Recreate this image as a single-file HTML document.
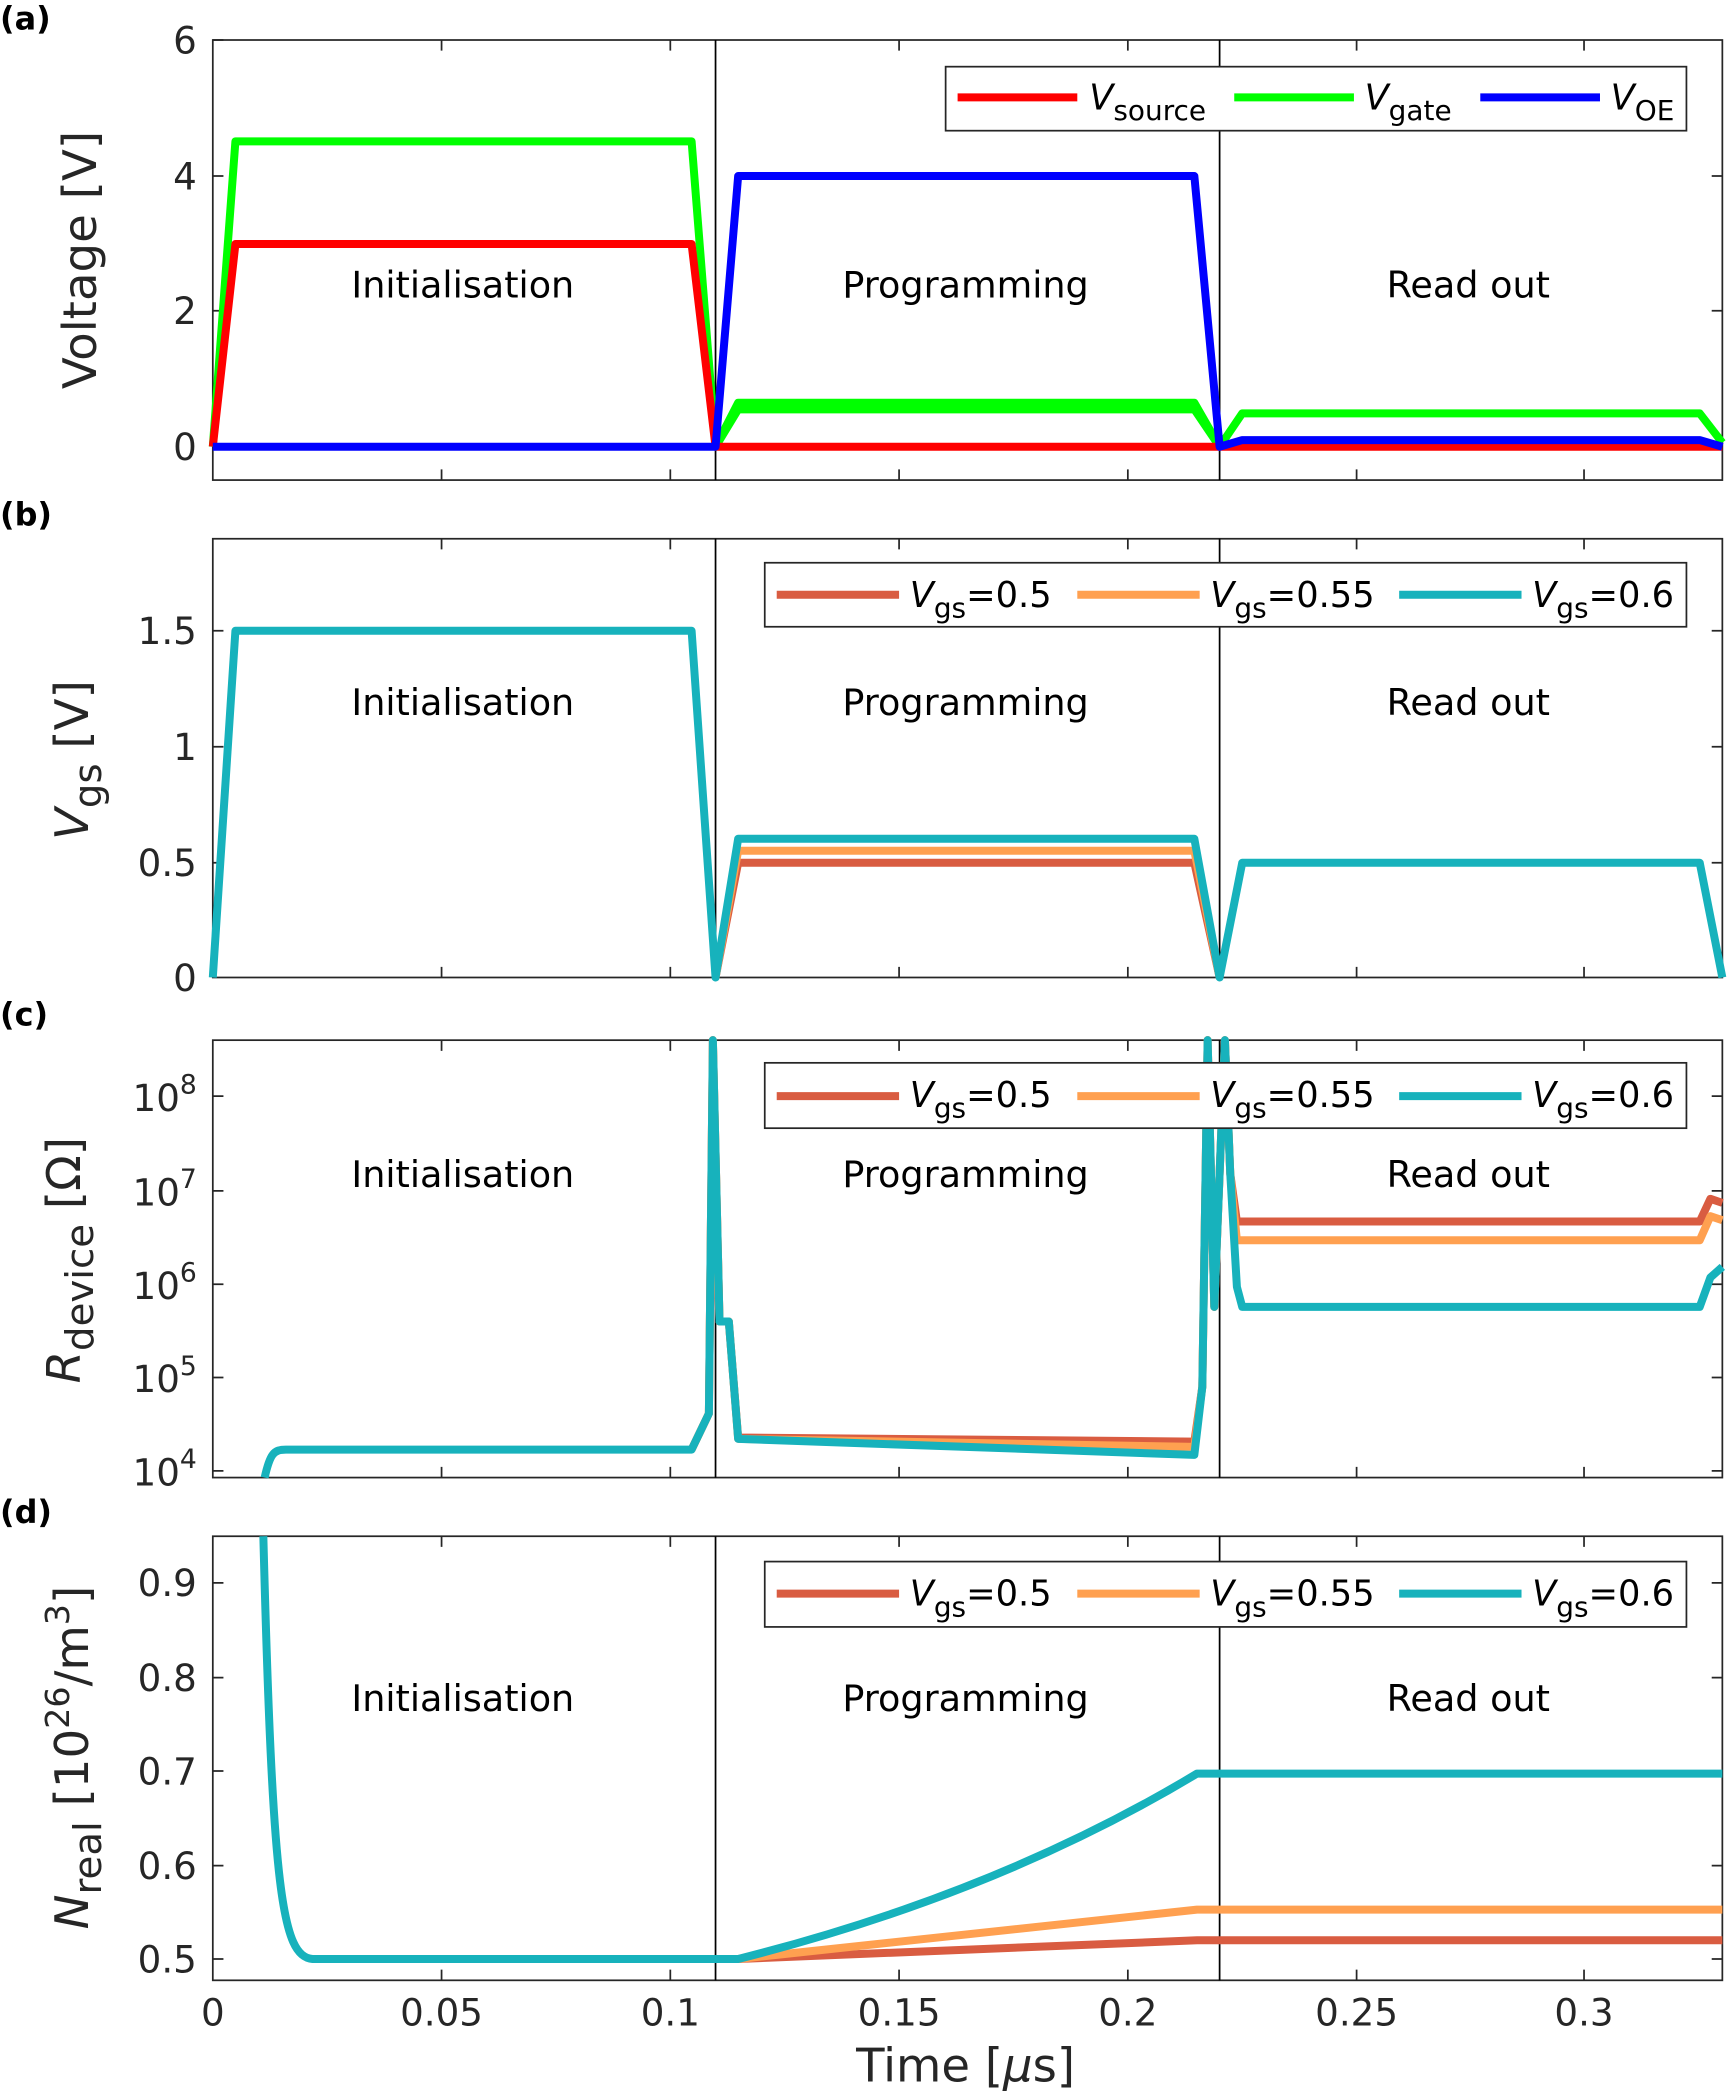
<!DOCTYPE html>
<html><head><meta charset="utf-8"><style>
html,body{margin:0;padding:0;background:#fff}
svg{display:block}
text{font-family:"DejaVu Sans","Liberation Sans",sans-serif;fill:#262626}
.t{font-size:28px}
.lab{font-size:27.5px;fill:#000}
.yl{font-size:35px}
.pl{font-size:24px;font-weight:bold;fill:#000}
.ax{fill:none;stroke:#262626;stroke-width:1.3}
.dv{stroke:#000;stroke-width:1.3}
.s{fill:none;stroke-width:6;stroke-linejoin:round}
.lg{font-size:26.5px;fill:#000}
</style></head><body>
<svg width="1729" height="2091" viewBox="0 0 1300 1568" preserveAspectRatio="none" xmlns="http://www.w3.org/2000/svg">
<rect width="1300" height="1568" fill="#fff"/>
<text class="pl" x="0" y="22">(a)</text>
<text class="pl" x="0" y="394">(b)</text>
<text class="pl" x="0" y="769">(c)</text>
<text class="pl" x="0" y="1142">(d)</text>

<g>
<rect class="ax" x="160" y="30" width="1135" height="330"/>
<line class="dv" x1="538" y1="30" x2="538" y2="360"/>
<line class="dv" x1="917" y1="30" x2="917" y2="360"/>
<g class="ax">
<path d="M332,360v-8M504,360v-8M676,360v-8M848,360v-8M1020,360v-8M1191,360v-8M332,30v8M504,30v8M676,30v8M848,30v8M1020,30v8M1191,30v8"/>
<path d="M160,335h8M160,233h8M160,132h8M160,30h8M1295,335h-8M1295,233h-8M1295,132h-8"/>
</g>
<text class="t" x="148" y="345" text-anchor="end">0</text>
<text class="t" x="148" y="243" text-anchor="end">2</text>
<text class="t" x="148" y="142" text-anchor="end">4</text>
<text class="t" x="148" y="40" text-anchor="end">6</text>
<text class="yl" transform="translate(72,195) rotate(-90)" text-anchor="middle">Voltage [V]</text>
<text class="lab" x="348" y="223" text-anchor="middle">Initialisation</text>
<text class="lab" x="726" y="223" text-anchor="middle">Programming</text>
<text class="lab" x="1104" y="223" text-anchor="middle">Read out</text>
<path class="s" stroke="#00FF00" d="M160,335L177,106L520,106L538,335L555,307L898,307L917,335L934,310L1278,310L1295,332"/>
<path class="s" stroke="#00FF00" d="M538,335L555,302L898,302L917,335"/>
<path class="s" stroke="#FF0000" d="M160,335L177,183L520,183L538,335L1295,335"/>
<path class="s" stroke="#0000FF" d="M160,335L538,335L555,132L898,132L917,335L934,330L1278,330L1295,335"/>
<rect x="711" y="50" width="557" height="48" fill="#fff" stroke="#262626" stroke-width="1.3"/>
<line x1="720" y1="73" x2="810" y2="73" stroke="#FF0000" stroke-width="6"/>
<line x1="928" y1="73" x2="1018" y2="73" stroke="#00FF00" stroke-width="6"/>
<line x1="1113" y1="73" x2="1203" y2="73" stroke="#0000FF" stroke-width="6"/>
<text class="lg" x="819" y="82"><tspan font-style="italic">V</tspan><tspan dy="8" font-size="21">source</tspan></text>
<text class="lg" x="1026" y="82"><tspan font-style="italic">V</tspan><tspan dy="8" font-size="21">gate</tspan></text>
<text class="lg" x="1211" y="82"><tspan font-style="italic">V</tspan><tspan dy="8" font-size="21">OE</tspan></text>
</g>

<g>
<rect class="ax" x="160" y="404" width="1135" height="329"/>
<line class="dv" x1="538" y1="404" x2="538" y2="733"/>
<line class="dv" x1="917" y1="404" x2="917" y2="733"/>
<g class="ax">
<path d="M332,733v-8M504,733v-8M676,733v-8M848,733v-8M1020,733v-8M1191,733v-8M332,404v8M504,404v8M676,404v8M848,404v8M1020,404v8M1191,404v8"/>
<path d="M160,647h8M160,560h8M160,473h8M1295,647h-8M1295,560h-8M1295,473h-8"/>
</g>
<text class="t" x="148" y="743" text-anchor="end">0</text>
<text class="t" x="148" y="657" text-anchor="end">0.5</text>
<text class="t" x="148" y="570" text-anchor="end">1</text>
<text class="t" x="148" y="483" text-anchor="end">1.5</text>
<text class="yl" transform="translate(66,570) rotate(-90)" text-anchor="middle"><tspan font-style="italic">V</tspan><tspan dy="10" font-size="29">gs</tspan><tspan dy="-10"> [V]</tspan></text>
<text class="lab" x="348" y="536" text-anchor="middle">Initialisation</text>
<text class="lab" x="726" y="536" text-anchor="middle">Programming</text>
<text class="lab" x="1104" y="536" text-anchor="middle">Read out</text>
<path class="s" stroke="#D95C41" d="M538,733L555,647L898,647L917,733"/>
<path class="s" stroke="#FFA050" d="M538,733L555,638L898,638L917,733"/>
<path class="s" stroke="#17B2BC" d="M160,733L177,473L520,473L538,733L555,629L898,629L917,733L934,647L1278,647L1295,733"/>
<rect x="575" y="422" width="693" height="48" fill="#fff" stroke="#262626" stroke-width="1.3"/>
<line x1="584" y1="446" x2="676" y2="446" stroke="#D95C41" stroke-width="6"/>
<line x1="810" y1="446" x2="902" y2="446" stroke="#FFA050" stroke-width="6"/>
<line x1="1052" y1="446" x2="1144" y2="446" stroke="#17B2BC" stroke-width="6"/>
<text class="lg" x="684" y="455"><tspan font-style="italic">V</tspan><tspan dy="8" font-size="21">gs</tspan><tspan dy="-8">=0.5</tspan></text>
<text class="lg" x="910" y="455"><tspan font-style="italic">V</tspan><tspan dy="8" font-size="21">gs</tspan><tspan dy="-8">=0.55</tspan></text>
<text class="lg" x="1152" y="455"><tspan font-style="italic">V</tspan><tspan dy="8" font-size="21">gs</tspan><tspan dy="-8">=0.6</tspan></text>
</g>

<g>
<rect class="ax" x="160" y="780" width="1135" height="328"/>
<line class="dv" x1="538" y1="780" x2="538" y2="1108"/>
<line class="dv" x1="917" y1="780" x2="917" y2="1108"/>
<g class="ax">
<path d="M332,1108v-8M504,1108v-8M676,1108v-8M848,1108v-8M1020,1108v-8M1191,1108v-8M332,780v8M504,780v8M676,780v8M848,780v8M1020,780v8M1191,780v8"/>
<path d="M160,1103h8M160,1033h8M160,963h8M160,893h8M160,822h8M1295,1103h-8M1295,1033h-8M1295,963h-8M1295,893h-8M1295,822h-8"/>
</g>
<text class="t" x="148" y="1114" text-anchor="end">10<tspan dy="-13" font-size="20">4</tspan></text>
<text class="t" x="148" y="1044" text-anchor="end">10<tspan dy="-13" font-size="20">5</tspan></text>
<text class="t" x="148" y="974" text-anchor="end">10<tspan dy="-13" font-size="20">6</tspan></text>
<text class="t" x="148" y="904" text-anchor="end">10<tspan dy="-13" font-size="20">7</tspan></text>
<text class="t" x="148" y="833" text-anchor="end">10<tspan dy="-13" font-size="20">8</tspan></text>
<text class="yl" transform="translate(60,945) rotate(-90)" text-anchor="middle"><tspan font-style="italic">R</tspan><tspan dy="10" font-size="29">device</tspan><tspan dy="-10"> [Ω]</tspan></text>
<text class="lab" x="348" y="890" text-anchor="middle">Initialisation</text>
<text class="lab" x="726" y="890" text-anchor="middle">Programming</text>
<text class="lab" x="1104" y="890" text-anchor="middle">Read out</text>
<path class="s" stroke="#D95C41" d="M520,1087L533,1060L536,780L541,991L548,991L555,1078L898,1081L904,1040L908,780L913,980L921,780L925,880L930,916L1278,916L1286,899L1295,902"/>
<path class="s" stroke="#FFA050" d="M520,1087L533,1060L536,780L541,991L548,991L555,1079L898,1085L904,1040L908,780L913,980L921,780L925,880L930,930L1278,930L1286,912L1295,915"/>
<path class="s" stroke="#17B2BC" d="M199,1108C203,1090 206,1087 215,1087L520,1087L533,1060L536,780L541,991L548,991L555,1079L898,1091L904,1040L908,780L913,980L921,780L925,880L930,965L934,980L1278,980L1286,958L1295,950"/>
<rect x="575" y="797" width="693" height="49" fill="#fff" stroke="#262626" stroke-width="1.3"/>
<line x1="584" y1="822" x2="676" y2="822" stroke="#D95C41" stroke-width="6"/>
<line x1="810" y1="822" x2="902" y2="822" stroke="#FFA050" stroke-width="6"/>
<line x1="1052" y1="822" x2="1144" y2="822" stroke="#17B2BC" stroke-width="6"/>
<text class="lg" x="684" y="830"><tspan font-style="italic">V</tspan><tspan dy="8" font-size="21">gs</tspan><tspan dy="-8">=0.5</tspan></text>
<text class="lg" x="910" y="830"><tspan font-style="italic">V</tspan><tspan dy="8" font-size="21">gs</tspan><tspan dy="-8">=0.55</tspan></text>
<text class="lg" x="1152" y="830"><tspan font-style="italic">V</tspan><tspan dy="8" font-size="21">gs</tspan><tspan dy="-8">=0.6</tspan></text>
</g>

<g>
<rect class="ax" x="160" y="1152" width="1135" height="333"/>
<line class="dv" x1="538" y1="1152" x2="538" y2="1485"/>
<line class="dv" x1="917" y1="1152" x2="917" y2="1485"/>
<g class="ax">
<path d="M332,1485v-8M504,1485v-8M676,1485v-8M848,1485v-8M1020,1485v-8M1191,1485v-8M332,1152v8M504,1152v8M676,1152v8M848,1152v8M1020,1152v8M1191,1152v8"/>
<path d="M160,1469h8M160,1399h8M160,1328h8M160,1258h8M160,1187h8M1295,1469h-8M1295,1399h-8M1295,1328h-8M1295,1258h-8M1295,1187h-8"/>
</g>
<text class="t" x="148" y="1479" text-anchor="end">0.5</text>
<text class="t" x="148" y="1409" text-anchor="end">0.6</text>
<text class="t" x="148" y="1338" text-anchor="end">0.7</text>
<text class="t" x="148" y="1268" text-anchor="end">0.8</text>
<text class="t" x="148" y="1197" text-anchor="end">0.9</text>
<text class="yl" transform="translate(66,1318) rotate(-90)" text-anchor="middle"><tspan font-style="italic">N</tspan><tspan dy="10" font-size="29">real</tspan><tspan dy="-10"> [10</tspan><tspan dy="-14" font-size="25">26</tspan><tspan dy="14">/m</tspan><tspan dy="-14" font-size="25">3</tspan><tspan dy="14">]</tspan></text>
<text class="lab" x="348" y="1283" text-anchor="middle">Initialisation</text>
<text class="lab" x="726" y="1283" text-anchor="middle">Programming</text>
<text class="lab" x="1104" y="1283" text-anchor="middle">Read out</text>
<path class="s" stroke="#D95C41" d="M538,1469L555,1469Q730,1462 900,1455L1295,1455"/>
<path class="s" stroke="#FFA050" d="M538,1469L555,1469Q730,1450 900,1432L1295,1432"/>
<path class="s" stroke="#17B2BC" d="M198,1152C205,1420 212,1467 235,1469L555,1469Q750,1420 900,1330L1295,1330"/>
<rect x="575" y="1171" width="693" height="49" fill="#fff" stroke="#262626" stroke-width="1.3"/>
<line x1="584" y1="1195" x2="676" y2="1195" stroke="#D95C41" stroke-width="6"/>
<line x1="810" y1="1195" x2="902" y2="1195" stroke="#FFA050" stroke-width="6"/>
<line x1="1052" y1="1195" x2="1144" y2="1195" stroke="#17B2BC" stroke-width="6"/>
<text class="lg" x="684" y="1204"><tspan font-style="italic">V</tspan><tspan dy="8" font-size="21">gs</tspan><tspan dy="-8">=0.5</tspan></text>
<text class="lg" x="910" y="1204"><tspan font-style="italic">V</tspan><tspan dy="8" font-size="21">gs</tspan><tspan dy="-8">=0.55</tspan></text>
<text class="lg" x="1152" y="1204"><tspan font-style="italic">V</tspan><tspan dy="8" font-size="21">gs</tspan><tspan dy="-8">=0.6</tspan></text>
<text class="t" x="160" y="1519" text-anchor="middle">0</text>
<text class="t" x="332" y="1519" text-anchor="middle">0.05</text>
<text class="t" x="504" y="1519" text-anchor="middle">0.1</text>
<text class="t" x="676" y="1519" text-anchor="middle">0.15</text>
<text class="t" x="848" y="1519" text-anchor="middle">0.2</text>
<text class="t" x="1020" y="1519" text-anchor="middle">0.25</text>
<text class="t" x="1191" y="1519" text-anchor="middle">0.3</text>
<text class="yl" x="726" y="1561" text-anchor="middle" font-size="36">Time [<tspan font-style="italic">μ</tspan>s]</text>
</g>
</svg>
</body></html>
